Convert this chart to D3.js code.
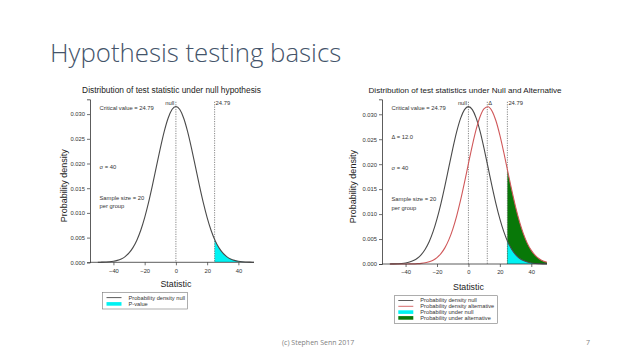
<!DOCTYPE html>
<html>
<head>
<meta charset="utf-8">
<script src="https://cdn.jsdelivr.net/npm/d3@7"></script>
<style>
  html, body { margin: 0; padding: 0; background: #ffffff; }
  svg { display: block; }
</style>
</head>
<body>
<svg id="chart" width="638" height="359"></svg>
<script>
// ---------------- data ----------------
const slideTitle = "Hypothesis testing basics";
const footerText = "(c) Stephen Senn 2017";
const pageNumber = "7";

const statGrid = [-50,-47.5,-45,-42.5,-40,-37.5,-35,-32.5,-30,-27.5,-25,-22.5,-20,-17.5,-15,-12.5,-10,-7.5,-5,-2.5,
                  0,2.5,5,7.5,10,12.5,15,17.5,20,22.5,25,27.5,30,32.5,35,37.5,40,42.5,45,47.5,50];

const nullDensity = [0.00001,0.00003,0.00006,0.00011,0.00021,0.00039,0.00069,0.00116,0.00190,0.00297,
                     0.00447,0.00648,0.00904,0.01211,0.01561,0.01936,0.02307,0.02646,0.02917,0.03093,
                     0.03154,
                     0.03093,0.02917,0.02646,0.02307,0.01936,0.01561,0.01211,0.00904,0.00648,0.00447,
                     0.00297,0.00190,0.00116,0.00069,0.00039,0.00021,0.00011,0.00006,0.00003,0.00001];

const altDensity = [0.00000,0.00000,0.00000,0.00000,0.00001,0.00002,0.00003,0.00007,0.00013,0.00024,
                    0.00044,0.00076,0.00129,0.00208,0.00323,0.00483,0.00695,0.00961,0.01278,0.01635,
                    0.02011,0.02379,0.02706,0.02961,0.03115,0.03152,0.03067,0.02870,0.02582,0.02235,
                    0.01860,0.01489,0.01146,0.00849,0.00604,0.00413,0.00272,0.00172,0.00105,0.00061,0.00035];

const criticalValue = 24.79;
const delta = 12.0;
const xTicks = [-40, -20, 0, 20, 40];
const yTicks = [0.000, 0.005, 0.010, 0.015, 0.020, 0.025, 0.030];

const leftTitle = "Distribution of test statistic under null hypothesis";
const rightTitle = "Distribution of test statistics under Null and Alternative";
const leftAnnotations = ["Critical value = 24.79", "\u03c3 = 40", "Sample size = 20", "per group"];
const rightAnnotations = ["Critical value = 24.79", "\u0394 = 12.0", "\u03c3 = 40", "Sample size = 20", "per group"];
const leftLegend = ["Probability density null", "P-value"];
const rightLegend = ["Probability density null", "Probability density alternative", "Probability under null", "Probability under alternative"];

// ---------------- drawing ----------------
const svg = d3.select("#chart");
const FONT = "'Liberation Sans', Arial, sans-serif";
const INK = "#333333";
const NULL_COL = "#4a4a4a";
const ALT_COL = "#d0585a";
const CYAN = "#00f2f2";
const GREEN = "#087808";

svg.append("rect").attr("width", 638).attr("height", 359).attr("fill", "#fff");

svg.append("text")
  .attr("x", 50).attr("y", 62)
  .attr("font-family", "'Open Sans', Lato, sans-serif")
  .attr("font-weight", 300)
  .attr("font-size", 25.8)
  .attr("fill", "#44546a")
  .text(slideTitle);

svg.append("text")
  .attr("x", 282).attr("y", 345)
  .attr("font-family", "'Open Sans', sans-serif")
  .attr("font-size", 7)
  .attr("fill", "#808080")
  .text(footerText);
svg.append("text")
  .attr("x", 586).attr("y", 345)
  .attr("font-family", "'Open Sans', sans-serif")
  .attr("font-size", 7)
  .attr("fill", "#808080")
  .text(pageNumber);

const pts = (dens) => statGrid.map((s, i) => ({ s, d: dens[i] }));

function drawPanel(cfg) {
  const g = svg.append("g");
  const x = d3.scaleLinear().domain([-55, 50]).range(cfg.xRange);
  const y = d3.scaleLinear().domain([0, 0.033]).range(cfg.yRange);
  const x0 = cfg.xRange[0], y0 = cfg.yRange[0];

  const clipId = "clip" + cfg.id;
  g.append("clipPath").attr("id", clipId)
    .append("rect")
    .attr("x", x(criticalValue)).attr("y", y(0.033))
    .attr("width", x(50) - x(criticalValue)).attr("height", y(0) - y(0.033));

  const area = d3.area().x(d => x(d.s)).y0(y(0)).y1(d => y(d.d)).curve(d3.curveMonotoneX);
  const line = d3.line().x(d => x(d.s)).y(d => y(d.d)).curve(d3.curveMonotoneX);

  if (cfg.alt) {
    g.append("path").datum(pts(altDensity)).attr("d", area)
      .attr("fill", GREEN).attr("clip-path", `url(#${clipId})`);
  }
  g.append("path").datum(pts(nullDensity)).attr("d", area)
    .attr("fill", CYAN).attr("clip-path", `url(#${clipId})`);

  // dotted reference lines
  const refs = cfg.alt ? [0, delta, criticalValue] : [0, criticalValue];
  g.selectAll("line.ref").data(refs).enter().append("line")
    .attr("x1", d => x(d)).attr("x2", d => x(d))
    .attr("y1", y(0.0325)).attr("y2", y(0))
    .attr("stroke", "#555").attr("stroke-width", 0.7)
    .attr("stroke-dasharray", "1.2,1.2");

  g.append("path").datum(pts(nullDensity)).attr("d", line)
    .attr("fill", "none").attr("stroke", NULL_COL).attr("stroke-width", 1.1);
  if (cfg.alt) {
    g.append("path").datum(pts(altDensity)).attr("d", line)
      .attr("fill", "none").attr("stroke", ALT_COL).attr("stroke-width", 1.1);
  }

  // axes
  const xAxis = g.append("g").attr("transform", `translate(0,${y0})`)
    .call(d3.axisBottom(x).tickValues(xTicks).tickSize(3).tickPadding(2).tickFormat(d3.format("d")));
  xAxis.select(".domain").attr("d", `M${x0},0H${cfg.xRange[1]}`);
  const yAxis = g.append("g").attr("transform", `translate(${x0},0)`)
    .call(d3.axisLeft(y).tickValues(yTicks).tickSize(3).tickPadding(2).tickFormat(d3.format(".3f")));
  [xAxis, yAxis].forEach(a => {
    a.select(".domain").attr("stroke", INK).attr("stroke-width", 0.8);
    a.selectAll(".tick line").attr("stroke", INK).attr("stroke-width", 0.7);
    a.selectAll(".tick text").attr("font-family", FONT).attr("font-size", 5.8).attr("fill", INK);
  });
  xAxis.selectAll(".tick text").attr("dy", "0.9em");

  // titles
  g.append("text").attr("x", cfg.titleX).attr("y", 92.5)
    .attr("text-anchor", "middle").attr("font-family", FONT)
    .attr("font-size", cfg.titleSize).attr("fill", "#222")
    .text(cfg.title);
  g.append("text").attr("x", (x(-40) + x(40)) / 2).attr("y", cfg.xLabelY)
    .attr("text-anchor", "middle").attr("font-family", FONT)
    .attr("font-size", 8.8).attr("fill", "#222").text("Statistic");
  g.append("text")
    .attr("transform", `translate(${cfg.yLabelX},${(y(0) + y(0.031)) / 2}) rotate(-90)`)
    .attr("text-anchor", "middle").attr("font-family", FONT)
    .attr("font-size", 9).attr("fill", "#222").text("Probability density");

  // annotations
  cfg.annotations.forEach((t, i) => {
    g.append("text").attr("x", cfg.annX).attr("y", cfg.annY[i])
      .attr("font-family", FONT).attr("font-size", 5.8).attr("fill", INK).text(t);
  });
  g.append("text").attr("x", x(0) - 1.5).attr("y", cfg.refLabelY)
    .attr("text-anchor", "end").attr("font-family", FONT).attr("font-size", 5.8)
    .attr("fill", INK).text("null");
  if (cfg.alt) {
    g.append("text").attr("x", x(delta) + 1).attr("y", cfg.refLabelY)
      .attr("font-family", FONT).attr("font-size", 5.8)
      .attr("fill", INK).text("\u0394");
  }
  g.append("text").attr("x", x(criticalValue) + 1).attr("y", cfg.refLabelY)
    .attr("font-family", FONT).attr("font-size", 5.8)
    .attr("fill", INK).text(criticalValue.toFixed(2));

  // legend
  const L = cfg.legend;
  g.append("rect").attr("x", L.x).attr("y", L.y).attr("width", L.w).attr("height", L.h)
    .attr("fill", "#fff").attr("stroke", "#777").attr("stroke-width", 0.6);
  L.items.forEach((it, i) => {
    const cy = L.y + L.top + i * L.step;
    if (it.type === "line") {
      g.append("line").attr("x1", L.x + 4).attr("x2", L.x + 19).attr("y1", cy).attr("y2", cy)
        .attr("stroke", it.color).attr("stroke-width", 0.9);
    } else {
      g.append("rect").attr("x", L.x + 4).attr("y", cy - 1.8).attr("width", 15).attr("height", 3.6)
        .attr("fill", it.color);
    }
    g.append("text").attr("x", L.x + 26).attr("y", cy).attr("dy", "0.35em")
      .attr("font-family", FONT).attr("font-size", 5.7).attr("fill", INK).text(it.label);
  });
}

drawPanel({
  id: "L", alt: false,
  xRange: [90, 254], yRange: [262.3, 99.3],
  title: leftTitle, titleX: 171.5, titleSize: 8.4,
  xLabelY: 287, yLabelX: 67,
  annotations: leftAnnotations, annX: 99.5, annY: [109.5, 168.5, 199.5, 208],
  refLabelY: 104.5,
  legend: { x: 102.5, y: 292.3, w: 85, h: 16.7, top: 5.3, step: 6.3,
            items: [ { type: "line", color: NULL_COL, label: leftLegend[0] },
                     { type: "rect", color: CYAN, label: leftLegend[1] } ] }
});

drawPanel({
  id: "R", alt: true,
  xRange: [382, 547], yRange: [264, 99.3],
  title: rightTitle, titleX: 465, titleSize: 8.1,
  xLabelY: 289.5, yLabelX: 356,
  annotations: rightAnnotations, annX: 391.5, annY: [110, 139, 169.5, 201, 209.5],
  refLabelY: 105,
  legend: { x: 394.3, y: 295.7, w: 103, h: 27.6, top: 4.8, step: 5.8,
            items: [ { type: "line", color: NULL_COL, label: rightLegend[0] },
                     { type: "line", color: ALT_COL, label: rightLegend[1] },
                     { type: "rect", color: CYAN, label: rightLegend[2] },
                     { type: "rect", color: GREEN, label: rightLegend[3] } ] }
});
</script>
</body>
</html>
